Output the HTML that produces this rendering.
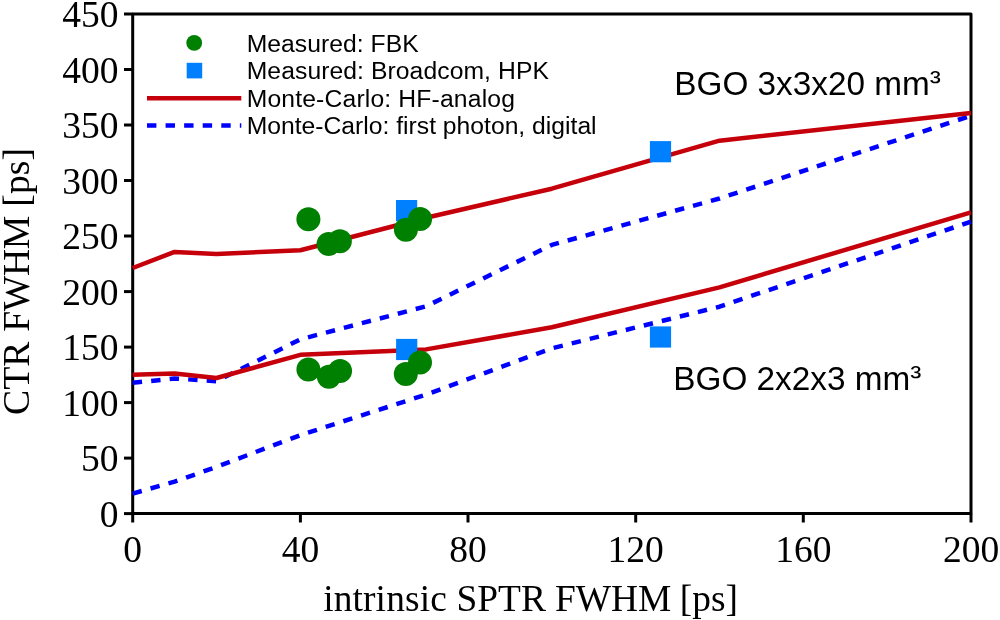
<!DOCTYPE html>
<html><head><meta charset="utf-8"><style>
html,body{margin:0;padding:0;background:#fff;width:1000px;height:620px;overflow:hidden}
svg{display:block;will-change:transform}
</style></head><body>
<svg width="1000" height="620" viewBox="0 0 1000 620">

<g stroke="#000" stroke-width="3" fill="none">
<rect x="132.7" y="14.0" width="838.3" height="499.6" stroke-linejoin="round"/>
<line x1="124" y1="513.6" x2="132.7" y2="513.6"/><line x1="124" y1="458.1" x2="132.7" y2="458.1"/><line x1="124" y1="402.6" x2="132.7" y2="402.6"/><line x1="124" y1="347.1" x2="132.7" y2="347.1"/><line x1="124" y1="291.6" x2="132.7" y2="291.6"/><line x1="124" y1="236.0" x2="132.7" y2="236.0"/><line x1="124" y1="180.5" x2="132.7" y2="180.5"/><line x1="124" y1="125.0" x2="132.7" y2="125.0"/><line x1="124" y1="69.5" x2="132.7" y2="69.5"/><line x1="124" y1="14.0" x2="132.7" y2="14.0"/><line x1="132.7" y1="513.6" x2="132.7" y2="522.5"/><line x1="300.4" y1="513.6" x2="300.4" y2="522.5"/><line x1="468.0" y1="513.6" x2="468.0" y2="522.5"/><line x1="635.7" y1="513.6" x2="635.7" y2="522.5"/><line x1="803.3" y1="513.6" x2="803.3" y2="522.5"/><line x1="971.0" y1="513.6" x2="971.0" y2="522.5"/>
</g>
<g fill="none" stroke-linejoin="round">
<polyline points="132.7,382.8 174.6,378.5 216.5,381.2 300.4,339.3 426.1,306.3 551.8,244.9 719.5,198.5 971.0,115.7" stroke="#0000ff" stroke-width="4.5" stroke-dasharray="9.4 9.17"/>
<polyline points="132.7,493.6 174.6,481.7 216.5,466.9 300.4,435.1 426.1,394.6 551.8,348.3 719.5,306.7 971.0,221.6" stroke="#0000ff" stroke-width="4.5" stroke-dasharray="9.4 9.17"/>
<polyline points="132.7,268.0 174.6,251.9 216.5,254.0 300.4,250.3 426.1,217.7 551.8,188.7 719.5,140.7 971.0,113.1" stroke="#c6000a" stroke-width="4.5"/>
<polyline points="132.7,374.8 174.6,373.6 216.5,378.0 300.4,354.8 426.1,349.4 551.8,327.3 719.5,287.4 971.0,212.3" stroke="#c6000a" stroke-width="4.5"/>
</g>
<g fill="#0080ff"><rect x="396.0" y="200.0" width="21.2" height="21.2"/><rect x="649.9" y="141.1" width="21.2" height="21.2"/><rect x="396.1" y="338.9" width="21.2" height="21.2"/><rect x="649.9" y="326.4" width="21.2" height="21.2"/></g>
<g fill="#008000"><circle cx="308.4" cy="219.3" r="12"/><circle cx="328.6" cy="243.9" r="12"/><circle cx="339.85" cy="241.3" r="12"/><circle cx="405.9" cy="229.8" r="12"/><circle cx="420.1" cy="219.1" r="12"/><circle cx="308.4" cy="369.5" r="12"/><circle cx="328.9" cy="376.8" r="12"/><circle cx="340.05" cy="371.1" r="12"/><circle cx="405.8" cy="374" r="12"/><circle cx="420" cy="362.5" r="12"/></g>
<g font-family="Liberation Serif" font-size="37.5" fill="#000">
<text x="118.5" y="526.6" text-anchor="end">0</text><text x="118.5" y="471.0" text-anchor="end">50</text><text x="118.5" y="415.5" text-anchor="end">100</text><text x="118.5" y="360.0" text-anchor="end">150</text><text x="118.5" y="304.5" text-anchor="end">200</text><text x="118.5" y="249.0" text-anchor="end">250</text><text x="118.5" y="193.5" text-anchor="end">300</text><text x="118.5" y="138.0" text-anchor="end">350</text><text x="118.5" y="82.5" text-anchor="end">400</text><text x="118.5" y="26.9" text-anchor="end">450</text><text x="132.7" y="562" text-anchor="middle">0</text><text x="300.4" y="562" text-anchor="middle">40</text><text x="468.0" y="562" text-anchor="middle">80</text><text x="635.7" y="562" text-anchor="middle">120</text><text x="803.3" y="562" text-anchor="middle">160</text><text x="971.0" y="562" text-anchor="middle">200</text>
<g font-size="37.4"><text x="323.18" y="610.6" textLength="123.6" lengthAdjust="spacing">intrinsic</text><text x="456.46" y="610.6">SPTR</text><text x="554.98" y="610.6">FWHM</text><text x="679.76" y="610.6">[ps]</text></g>
<g transform="translate(29,281.6) rotate(-90)" font-size="37.7"><text x="-133.41" y="0">CTR</text><text x="-50.2" y="0" textLength="116.2" lengthAdjust="spacing">FWHM</text><text x="74.98" y="0">[ps]</text></g>
</g>
<!-- legend -->
<circle cx="194.2" cy="42.9" r="7.9" fill="#008000"/>
<rect x="186.7" y="62.8" width="15.5" height="15.6" fill="#0080ff"/>
<line x1="147" y1="98.3" x2="241.3" y2="98.3" stroke="#c6000a" stroke-width="4.5"/>
<line x1="147" y1="125.5" x2="241.3" y2="125.5" stroke="#0000ff" stroke-width="4.5" stroke-dasharray="9.4 9.17"/>
<g font-family="Liberation Sans" font-size="24.7" fill="#000">
<text x="246.7" y="51.5" textLength="172" lengthAdjust="spacing">Measured: FBK</text>
<text x="246.7" y="79.2" textLength="302.2" lengthAdjust="spacing">Measured: Broadcom, HPK</text>
<text x="246.7" y="106.9" textLength="268.2" lengthAdjust="spacing">Monte-Carlo: HF-analog</text>
<text x="246.7" y="134.4">Monte-Carlo: first photon, digital</text>
</g>
<g font-family="Liberation Sans" font-size="33.3" fill="#000">
<text x="674.3" y="95">BGO 3x3x20 mm</text>
<text x="673.3" y="390">BGO 2x2x3 mm</text>
<text x="929.66" y="95" transform="translate(0,70) scale(1,0.87) translate(0,-71)">³</text>
<text x="910.15" y="390" transform="translate(0,365) scale(1,0.87) translate(0,-366)">³</text>
</g>
</svg>
</body></html>
